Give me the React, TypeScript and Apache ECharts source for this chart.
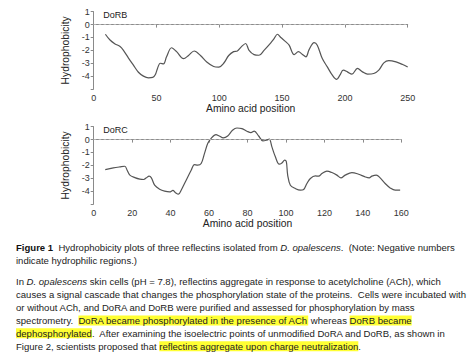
import React, { useEffect, useRef } from "react";
import * as echarts from "echarts";

const dorbX = [9.3, 13, 17, 21, 23.7, 27.7, 31.6, 35.6, 39.6, 43.6, 47, 49, 50.8, 53, 55.6, 58, 62, 66, 71.5, 75.5, 80, 85, 90, 95.5, 99.5, 103.5, 107.5, 111.4, 114.4, 117.5, 121, 123.7, 127.7, 131.6, 135.6, 141, 143.6, 146.3, 149, 153, 155.6, 159.6, 163, 166, 169, 171.5, 175.5, 178, 182, 186, 190, 193.4, 196, 198.7, 202, 205.6, 210, 214, 218, 223, 227, 231, 235, 240.7, 246, 250];
const dorbY = [-0.75, -1.2, -1.5, -1.7, -2.0, -2.6, -3.15, -3.7, -4.0, -4.13, -4.1, -3.9, -3.4, -3.0, -3.05, -2.5, -1.8, -2.1, -2.65, -2.4, -2.05, -2.4, -2.9, -3.25, -3.3, -3.0, -2.4, -2.1, -2.05, -1.73, -1.47, -2.0, -2.33, -2.38, -2.0, -1.42, -1.09, -0.75, -1.0, -1.34, -1.6, -2.33, -2.1, -2.3, -2.5, -1.94, -1.4, -1.6, -2.64, -3.28, -3.93, -4.26, -3.93, -3.54, -3.67, -3.85, -3.4, -3.67, -3.85, -3.8, -3.54, -2.97, -2.8, -2.9, -3.1, -3.3];

const dorcX = [6, 10.2, 13.6, 16.2, 17.4, 18.8, 21.4, 24, 26, 27.4, 28.8, 30, 31.7, 34.3, 36.9, 39.5, 41.2, 42.4, 44.1, 45.5, 48.1, 50.7, 52.4, 54.1, 55.9, 57.6, 59.3, 61, 63.6, 65.3, 67.4, 69.7, 72.2, 74.5, 77.1, 79.7, 81.8, 83.5, 85.8, 88, 89.8, 91.3, 92.7, 94.5, 96.5, 97.9, 99.3, 100.2, 100.9, 102.3, 104.9, 107.5, 109.2, 110.9, 112.7, 115.3, 117, 118.7, 121.3, 123.9, 126.5, 128.6, 130.8, 134.3, 137.8, 141.3, 143.3, 144.7, 147, 149, 151.6, 154.2, 156.8, 159.4];
const dorcY = [-2.33, -2.2, -2.12, -2.07, -2.38, -2.76, -2.95, -3.07, -3.1, -2.97, -2.84, -2.97, -3.54, -3.85, -4.0, -4.06, -3.95, -4.1, -4.24, -3.93, -3.15, -2.38, -1.94, -1.99, -1.86, -1.09, -0.31, 0.08, 0.39, 0.28, 0.13, 0.28, 0.72, 0.9, 0.85, 0.65, 0.54, 0.65, 0.28, -0.1, -0.05, 0.03, -0.57, -1.34, -1.91, -1.81, -1.6, -1.72, -2.76, -3.54, -3.8, -3.93, -3.88, -3.41, -3.02, -2.82, -2.84, -2.64, -2.45, -2.56, -2.76, -2.97, -2.76, -2.56, -2.69, -2.9, -2.97, -2.84, -2.76, -2.97, -3.41, -3.75, -3.93, -3.93];

const panelLabels = ["DoRB", "DoRC"];
const xMax = [250, 160];
const xInterval = [50, 20];
const yTicks = [1, 0, -1, -2, -3, -4];
const xName = "Amino acid position";
const yName = "Hydrophobicity";

const captionLines = [
  "{b|Figure 1}  Hydrophobicity plots of three reflectins isolated from {i|D. opalescens}.  (Note: Negative numbers",
  "indicate hydrophilic regions.)",
];
const bodyLines = [
  "In {i|D. opalescens} skin cells (pH = 7.8), reflectins aggregate in response to acetylcholine (ACh), which",
  "causes a signal cascade that changes the phosphorylation state of the proteins.  Cells were incubated with",
  "or without ACh, and DoRA and DoRB were purified and assessed for phosphorylation by mass",
  "spectrometry.  {h|DoRA became phosphorylated in the presence of ACh} whereas {h|DoRB became}",
  "{h|dephosphorylated}.  After examining the isoelectric points of unmodified DoRA and DoRB, as shown in",
  "Figure 2, scientists proposed that {h|reflectins aggregate upon charge neutralization}.",
];

const FONT = "Liberation Sans";
const FS = 9.55;

export default function App() {
  const ref = useRef<HTMLDivElement>(null);
  useEffect(() => {
    document.body.style.margin = "0";
    const chart = echarts.init(ref.current!, null, { renderer: "svg" });
    const grids = [
      { left: 93.7, right: 66.3, top: 11.7, bottom: 270 },
      { left: 93.7, right: 72.7, top: 126.7, bottom: 155 },
    ];
    const axisColor = "#8a8a8a";
    const labelColor = "#333";
    const xAxes = [0, 1].map((i) => ({
      type: "value",
      gridIndex: i,
      min: 0,
      max: xMax[i],
      interval: xInterval[i],
      name: xName,
      nameLocation: "middle",
      nameGap: 14,
      nameTextStyle: { fontFamily: FONT, fontSize: 10.3, color: "#222" },
      axisLine: { show: true, lineStyle: { color: axisColor, width: 1 } },
      axisTick: { show: true, length: 3, lineStyle: { color: axisColor } },
      axisLabel: { fontFamily: FONT, fontSize: 9, color: labelColor, margin: 4 },
      splitLine: { show: false },
    }));
    const yAxes = [0, 1].map((i) => ({
      type: "value",
      gridIndex: i,
      min: -5,
      max: 1,
      interval: 1,
      name: yName,
      nameLocation: "middle",
      nameGap: 15,
      nameTextStyle: { fontFamily: FONT, fontSize: 10.3, color: "#222" },
      axisLine: { show: true, lineStyle: { color: axisColor, width: 1 } },
      axisTick: { show: true, length: 3, lineStyle: { color: axisColor } },
      axisLabel: {
        fontFamily: FONT,
        fontSize: 9,
        color: labelColor,
        margin: 4,
        formatter: (v: number) => (yTicks.includes(v) ? String(v) : ""),
      },
      splitLine: { show: false },
    }));
    const datasets = [
      dorbX.map((x, k) => [x, dorbY[k]]),
      dorcX.map((x, k) => [x, dorcY[k]]),
    ];
    const series = [0, 1].map((i) => ({
      type: "line",
      xAxisIndex: i,
      yAxisIndex: i,
      data: datasets[i],
      smooth: 0.35,
      symbol: "none",
      lineStyle: { color: "#555", width: 1.2 },
      markLine: {
        silent: true,
        symbol: "none",
        label: { show: false },
        lineStyle: { color: "#b5b5b5", type: [2.5, 2.5], width: 1 },
        data: [{ yAxis: 0 }],
      },
    }));

    const rich = {
      b: { fontFamily: FONT, fontSize: FS, fontWeight: "bold", fill: "#111" },
      i: { fontFamily: FONT, fontSize: FS, fontStyle: "italic", fill: "#222" },
      h: { fontFamily: FONT, fontSize: FS, fill: "#222", backgroundColor: "#ffff33", lineHeight: 11.5 },
    };
    const textEl = (t: string, y: number) => ({
      type: "text",
      x: 16,
      y,
      style: {
        text: t,
        fontFamily: FONT,
        fontSize: FS,
        fill: "#222",
        verticalAlign: "middle",
        rich,
      },
    });
    const graphics: any[] = [];
    panelLabels.forEach((p, i) => {
      graphics.push({
        type: "text",
        x: 103.3,
        y: i === 0 ? 15 : 130,
        style: { text: p, fontFamily: FONT, fontSize: 9, fill: "#222", verticalAlign: "middle" },
      });
    });
    captionLines.forEach((l, k) => graphics.push(textEl(l, 247.2 + k * 13.5)));
    bodyLines.forEach((l, k) => graphics.push(textEl(l, 281.7 + k * 12.9)));

    chart.setOption({
      animation: false,
      backgroundColor: "#fff",
      grid: grids,
      xAxis: xAxes,
      yAxis: yAxes,
      series,
      graphic: graphics,
    } as any);
    return () => chart.dispose();
  }, []);
  return <div ref={ref} style={{ width: 474, height: 359 }} />;
}
